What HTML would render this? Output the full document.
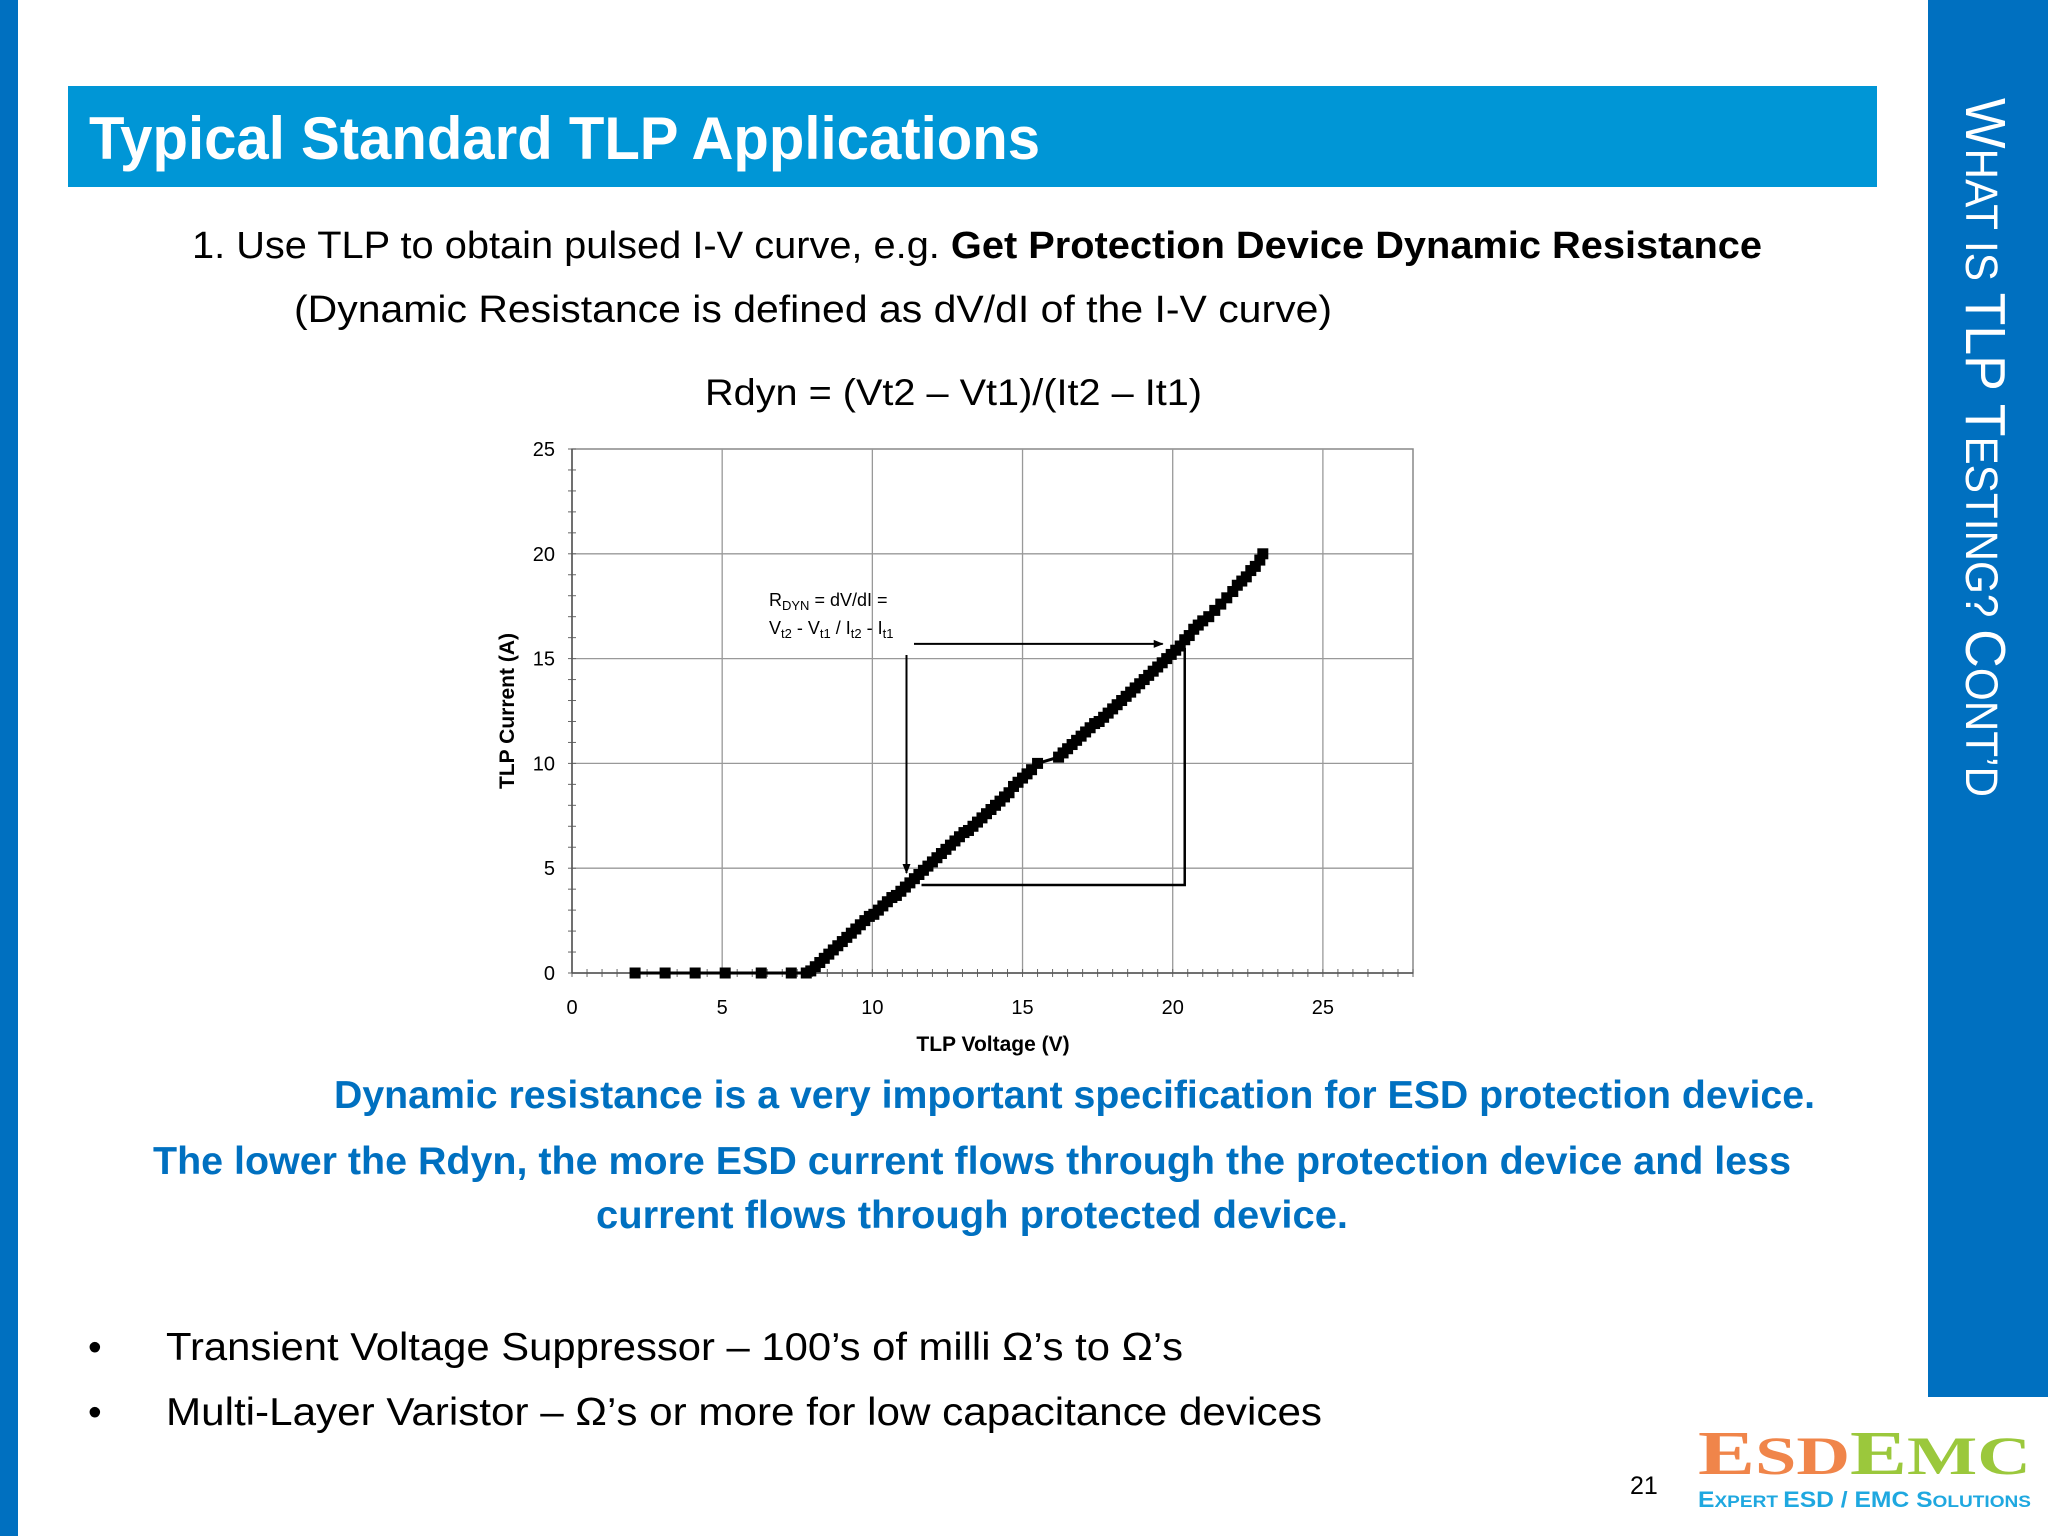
<!DOCTYPE html>
<html><head><meta charset="utf-8"><style>
html,body{margin:0;padding:0;background:#fff;}
svg{display:block;}
</style></head><body>
<svg width="2048" height="1536" viewBox="0 0 2048 1536" xmlns="http://www.w3.org/2000/svg" font-family="Liberation Sans, sans-serif">
<rect x="0" y="0" width="18" height="1536" fill="#0070c0"/>
<rect x="1928" y="0" width="120" height="1397" fill="#0070c0"/>
<text transform="translate(1966,98) rotate(90)" fill="#fff" font-size="57" textLength="699" lengthAdjust="spacingAndGlyphs">W<tspan font-size="45">HAT IS </tspan>TLP T<tspan font-size="45">ESTING? </tspan>C<tspan font-size="45">ONT’D</tspan></text>
<rect x="68" y="86" width="1809" height="101" fill="#0096d6"/>
<text x="89" y="159" fill="#fff" font-size="60" font-weight="bold" textLength="951" lengthAdjust="spacingAndGlyphs">Typical Standard TLP Applications</text>
<text x="192" y="258" font-size="38" fill="#000" textLength="1570" lengthAdjust="spacingAndGlyphs">1. Use TLP to obtain pulsed I-V curve, e.g. <tspan font-weight="bold">Get Protection Device Dynamic Resistance</tspan></text>
<text x="294" y="322" font-size="38" fill="#000" textLength="1038" lengthAdjust="spacingAndGlyphs">(Dynamic Resistance is defined as dV/dI of the I-V curve)</text>
<text x="705" y="405" font-size="37" fill="#000" textLength="497" lengthAdjust="spacingAndGlyphs">Rdyn = (Vt2 – Vt1)/(It2 – It1)</text>

<g id="chart"></g>

<g fill="#0070c0" font-weight="bold" font-size="39">
<text x="334" y="1108" textLength="1481" lengthAdjust="spacingAndGlyphs">Dynamic resistance is a very important specification for ESD protection device.</text>
<text x="153" y="1174" textLength="1638" lengthAdjust="spacingAndGlyphs">The lower the Rdyn, the more ESD current flows through the protection device and less</text>
<text x="596" y="1228" textLength="752" lengthAdjust="spacingAndGlyphs">current flows through protected device.</text>
</g>
<g font-size="39" fill="#000">
<text x="88" y="1360">•</text>
<text x="166" y="1360" textLength="1017" lengthAdjust="spacingAndGlyphs">Transient Voltage Suppressor – 100’s of milli Ω’s to Ω’s</text>
<text x="88" y="1425">•</text>
<text x="166" y="1425" textLength="1156" lengthAdjust="spacingAndGlyphs">Multi-Layer Varistor – Ω’s or more for low capacitance devices</text>
</g>
<text x="1630" y="1494" font-size="25" fill="#000">21</text>
<g font-family="Liberation Serif, serif" font-weight="bold">
<text x="1698" y="1474" font-size="62" textLength="333" lengthAdjust="spacingAndGlyphs"><tspan fill="#f0854a">E<tspan font-size="54">SD</tspan></tspan><tspan fill="#9bc83c">E<tspan font-size="54">MC</tspan></tspan></text>
<text x="1698" y="1507" font-family="Liberation Sans, sans-serif" font-size="22" fill="#1fa8e0" textLength="333" lengthAdjust="spacingAndGlyphs">E<tspan font-size="17">XPERT </tspan>ESD / EMC S<tspan font-size="17">OLUTIONS</tspan></text>
</g>
</svg>
<script>
const xTicks = [0,5,10,15,20,25];
const yTicks = [0,5,10,15,20,25];
const volts = [2.1,3.1,4.1,5.1,6.3,7.3,7.8,7.95,8.1,8.25,8.4,8.55,8.7,8.85,9.0,9.15,9.3,9.45,9.6,9.75,9.9,10.05,10.2,10.35,10.5,10.65,10.8,10.95,11.1,11.25,11.4,11.55,11.7,11.85,12.0,12.15,12.3,12.45,12.6,12.75,12.9,13.05,13.2,13.35,13.5,13.65,13.8,13.95,14.1,14.25,14.4,14.55,14.7,14.85,15.0,15.15,15.3,15.5,16.2,16.35,16.5,16.65,16.8,16.95,17.1,17.25,17.4,17.55,17.7,17.85,18.0,18.15,18.3,18.45,18.6,18.75,18.9,19.05,19.2,19.35,19.5,19.65,19.8,19.95,20.1,20.25,20.4,20.55,20.7,20.85,21.0,21.2,21.4,21.6,21.8,22.0,22.15,22.3,22.45,22.6,22.75,22.9,23.0];
const amps = [0,0,0,0,0,0,0,0.1,0.3,0.5,0.7,0.9,1.1,1.3,1.5,1.7,1.9,2.1,2.3,2.5,2.7,2.8,3.0,3.2,3.4,3.6,3.7,3.9,4.1,4.3,4.5,4.7,4.9,5.1,5.3,5.5,5.7,5.9,6.1,6.3,6.5,6.7,6.8,7.0,7.2,7.4,7.6,7.8,8.0,8.2,8.4,8.6,8.9,9.1,9.3,9.5,9.7,10.0,10.3,10.5,10.7,10.9,11.1,11.3,11.5,11.7,11.9,12.0,12.2,12.4,12.6,12.8,13.0,13.2,13.4,13.6,13.8,14.0,14.2,14.4,14.6,14.8,15.0,15.2,15.4,15.6,15.9,16.1,16.4,16.6,16.8,17.0,17.3,17.6,17.9,18.2,18.5,18.7,18.9,19.2,19.4,19.7,20.0];
const annotVt1 = 11.17, annotIt1 = 4.2, annotVt2 = 20.4, annotIt2 = 15.7;

const NS = 'http://www.w3.org/2000/svg';
const L = 572, R = 1413, T = 449, B = 973;
const xMax = 28, yMax = 25;
const X = v => L + v / xMax * (R - L);
const Y = a => B - a / yMax * (B - T);
const g = document.getElementById('chart');
function mk(tag, attrs, parent) {
  const e = document.createElementNS(NS, tag);
  for (const k in attrs) e.setAttribute(k, attrs[k]);
  (parent || g).appendChild(e);
  return e;
}
const bg = mk('rect', {x: L, y: T, width: R - L, height: B - T, fill: '#fff', stroke: '#888', 'stroke-width': 1.5});


xTicks.forEach(v => {
  if (v > 0) {
    const gl = mk('line', {x1: X(v), x2: X(v), y1: T, y2: B, stroke: '#999', 'stroke-width': 1.3});
    
    
  }
  const t = mk('text', {x: X(v), y: 1014, 'text-anchor': 'middle', 'font-size': 20, fill: '#000'});
  
  
  t.textContent = v;
});
yTicks.forEach(a => {
  if (a > 0 && a < 25) {
    const gl = mk('line', {x1: L, x2: R, y1: Y(a), y2: Y(a), stroke: '#999', 'stroke-width': 1.3});
    
    
  }
  const t = mk('text', {x: 555, y: Y(a) + 7, 'text-anchor': 'end', 'font-size': 20, fill: '#000'});
  
  
  t.textContent = a;
});
for (let v = 0; v <= xMax; v += 0.5) {
  const tk = mk('line', {x1: X(v), x2: X(v), y1: B - 4, y2: B + 4, stroke: '#666', 'stroke-width': 1});
  
  
}
for (let a = 0; a <= yMax; a += 1) {
  const tk = mk('line', {x1: L - 4, x2: L + 4, y1: Y(a), y2: Y(a), stroke: '#666', 'stroke-width': 1});
  
  
}
const ax = mk('line', {x1: L, x2: R, y1: B, y2: B, stroke: '#555', 'stroke-width': 1.5});


const ay = mk('line', {x1: L, x2: L, y1: T, y2: B, stroke: '#555', 'stroke-width': 1.5});



const xt = mk('text', {x: 993, y: 1051, 'text-anchor': 'middle', 'font-size': 21, 'font-weight': 'bold'});


xt.textContent = 'TLP Voltage (V)';
const yt = mk('text', {x: 0, y: 0, 'text-anchor': 'middle', 'font-size': 21, 'font-weight': 'bold', transform: 'translate(514,711) rotate(-90)'});


yt.textContent = 'TLP Current (A)';

const line = mk('polyline', {points: volts.map((v, i) => X(v) + ',' + Y(amps[i])).join(' '), fill: 'none', stroke: '#000', 'stroke-width': 3});


volts.forEach((v, i) => {
  const m = mk('rect', {x: X(v) - 5.5, y: Y(amps[i]) - 5.5, width: 11, height: 11, fill: '#000'});
  
  
});

const defs = mk('defs', {});
const mkr = mk('marker', {id: 'arr', markerWidth: 10, markerHeight: 10, refX: 9, refY: 5, orient: 'auto', markerUnits: 'userSpaceOnUse'}, defs);
mk('path', {d: 'M0,1 L10,5 L0,9 Z', fill: '#000'}, mkr);
const ah = mk('line', {x1: 914, y1: Y(annotIt2), x2: X(annotVt2) - 22, y2: Y(annotIt2), stroke: '#000', 'stroke-width': 2, 'marker-end': 'url(#arr)'});


const av = mk('line', {x1: X(annotVt1) - 1, y1: 655, x2: X(annotVt1) - 1, y2: Y(annotIt1) - 12, stroke: '#000', 'stroke-width': 2, 'marker-end': 'url(#arr)'});


const br = mk('polyline', {points: (X(annotVt1) + 14) + ',' + Y(annotIt1) + ' ' + X(annotVt2) + ',' + Y(annotIt1) + ' ' + X(annotVt2) + ',' + (Y(annotIt2) + 4), fill: 'none', stroke: '#000', 'stroke-width': 2.5});


const at1 = mk('text', {x: 769, y: 606, 'font-size': 18});


at1.innerHTML = 'R<tspan font-size="13" dy="4">DYN</tspan><tspan dy="-4"> = dV/dI =</tspan>';
const at2 = mk('text', {x: 769, y: 634, 'font-size': 18});


at2.innerHTML = 'V<tspan font-size="13" dy="4">t2</tspan><tspan dy="-4"> - V</tspan><tspan font-size="13" dy="4">t1</tspan><tspan dy="-4"> / I</tspan><tspan font-size="13" dy="4">t2</tspan><tspan dy="-4"> - I</tspan><tspan font-size="13" dy="4">t1</tspan>';
</script>
</body></html>
